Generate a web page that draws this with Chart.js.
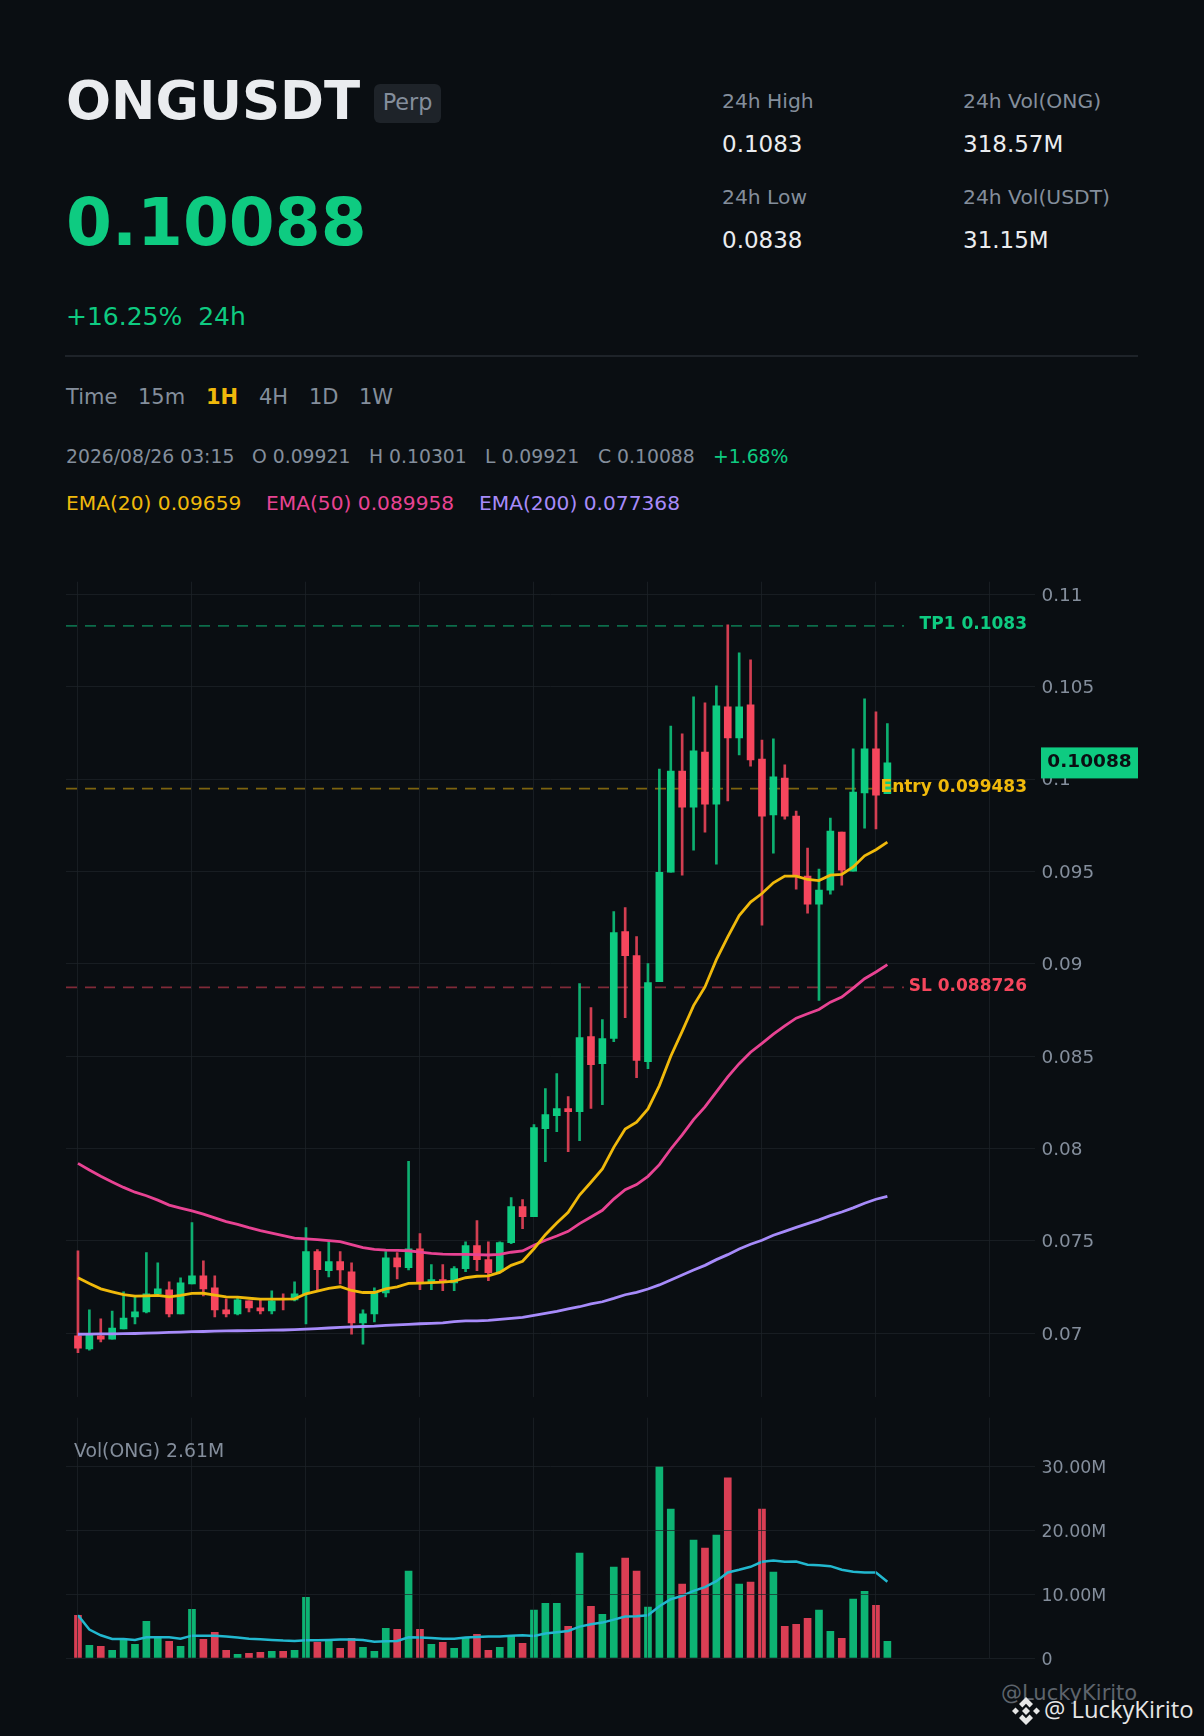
<!DOCTYPE html>
<html>
<head>
<meta charset="utf-8">
<title>ONGUSDT</title>
<script src="https://cdn.jsdelivr.net/npm/chart.js@4/dist/chart.umd.min.js"></script>
<style>
  html, body { margin: 0; padding: 0; background: #0a0e12; }
  #page { position: relative; width: 1204px; height: 1736px; overflow: hidden; font-family: "DejaVu Sans", sans-serif; color: #848e9c; }
  #page span, #page div.t { position: absolute; white-space: nowrap; line-height: 1; }
  canvas { position: absolute; left: 0; }
  #priceChart { top: 570px; }
  #volChart { top: 1410px; }
  .up { color: #0ecb81; }
  .white { color: #eaecef; }
</style>
</head>
<body>
<div id="page">
  <span style="left:66px;top:74px;font-size:53px;font-weight:bold;color:#eaecef">ONGUSDT</span>
  <span style="left:374px;top:84px;width:67px;height:39px;line-height:36px;font-size:22.3px;text-align:center;background:#1e2329;border-radius:6px">Perp</span>
  <span class="up" style="left:66px;top:190px;font-size:66px;font-weight:bold">0.10088</span>
  <span class="up" style="left:66px;top:304px;font-size:25px">+16.25%&nbsp; 24h</span>

  <span style="left:722px;top:91px;font-size:20.3px">24h High</span>
  <span class="white" style="left:722px;top:133px;font-size:23px">0.1083</span>
  <span style="left:722px;top:187px;font-size:20.3px">24h Low</span>
  <span class="white" style="left:722px;top:229px;font-size:23px">0.0838</span>
  <span style="left:963px;top:91px;font-size:20.3px">24h Vol(ONG)</span>
  <span class="white" style="left:963px;top:133px;font-size:23px">318.57M</span>
  <span style="left:963px;top:187px;font-size:20.3px">24h Vol(USDT)</span>
  <span class="white" style="left:963px;top:229px;font-size:23px">31.15M</span>

  <div style="position:absolute;left:65px;top:355px;width:1073px;height:2px;background:#1e2329"></div>

  <span style="left:66px;top:387px;font-size:21px">Time</span>
  <span style="left:138px;top:387px;font-size:21px">15m</span>
  <span style="left:206px;top:387px;font-size:21px;font-weight:bold;color:#f0b90b">1H</span>
  <span style="left:259px;top:387px;font-size:21px">4H</span>
  <span style="left:309px;top:387px;font-size:21px">1D</span>
  <span style="left:359px;top:387px;font-size:21px">1W</span>

  <span style="left:66px;top:448px;font-size:18.8px">2026/08/26 03:15</span>
  <span style="left:252px;top:448px;font-size:18.8px">O 0.09921</span>
  <span style="left:369px;top:448px;font-size:18.8px">H 0.10301</span>
  <span style="left:485px;top:448px;font-size:18.8px">L 0.09921</span>
  <span style="left:598px;top:448px;font-size:18.8px">C 0.10088</span>
  <span class="up" style="left:713px;top:448px;font-size:18.8px">+1.68%</span>

  <span style="left:66px;top:493px;font-size:20.2px;color:#f0b90b">EMA(20) 0.09659</span>
  <span style="left:266px;top:493px;font-size:20.2px;color:#e84393">EMA(50) 0.089958</span>
  <span style="left:479px;top:493px;font-size:20.2px;color:#a78bfa">EMA(200) 0.077368</span>

  <canvas id="priceChart" width="1204" height="840" style="width:1204px;height:840px"></canvas>
  <canvas id="volChart" width="1204" height="260" style="width:1204px;height:260px"></canvas>

  <span style="left:74px;top:1442px;font-size:18.8px">Vol(ONG) 2.61M</span>

  <span style="left:1001px;top:1683px;font-size:21px;color:#5e646c">@LuckyKirito</span>
  <svg style="position:absolute;left:1012px;top:1697px" width="28" height="28" viewBox="0 0 28 28" fill="#e6e6e6">
    <path d="M14 0l7 7-3.4 3.4L14 6.8l-3.6 3.6L7 7z"/>
    <path d="M14 28l7-7-3.4-3.4-3.6 3.6-3.6-3.6L7 21z"/>
    <path d="M3.5 10.5l3.5 3.5-3.5 3.5L0 14z"/>
    <path d="M24.500 10.500l3.500 3.500-3.500 3.500-3.500-3.500z"/>
    <path d="M14 10l4 4-4 4-4-4z"/>
  </svg>
  <span style="left:1044px;top:1698px;font-size:23.8px;color:#e6e6e6;font-family:'Open Sans',sans-serif">@ LuckyKirito</span>
</div>

<script>
// values
const opens = [0.06986,0.06915,0.06986,0.06969,0.07024,0.07089,0.07116,0.07214,0.07236,0.07105,0.07268,0.07312,0.07246,0.07127,0.07105,0.07176,0.07138,0.07121,0.07187,0.07181,0.07214,0.07442,0.07339,0.07388,0.07333,0.07056,0.07105,0.07219,0.07409,0.07355,0.07458,0.07273,0.07291,0.07273,0.0735,0.07475,0.07399,0.07334,0.07491,0.07686,0.07632,0.08108,0.08179,0.08217,0.082,0.08606,0.0846,0.08596,0.09175,0.09045,0.08471,0.08904,0.09496,0.10044,0.09849,0.10147,0.09865,0.10392,0.10223,0.10402,0.10109,0.09806,0.10006,0.098,0.09475,0.09323,0.09399,0.09713,0.09502,0.09925,0.10164,0.09921];
const highs = [0.07447,0.07127,0.07078,0.07121,0.07225,0.07203,0.07437,0.07382,0.07279,0.07301,0.076,0.07393,0.07312,0.07187,0.07192,0.07176,0.07181,0.0723,0.07214,0.07279,0.07572,0.07453,0.07496,0.07442,0.07382,0.07127,0.07246,0.07442,0.07437,0.07931,0.0754,0.07372,0.07372,0.07361,0.07496,0.0761,0.07496,0.07496,0.07735,0.07724,0.0813,0.08325,0.08406,0.08282,0.08893,0.08764,0.08699,0.09283,0.09305,0.09148,0.09002,0.10055,0.10288,0.10245,0.10446,0.10413,0.10505,0.10836,0.10684,0.10646,0.10212,0.10218,0.10077,0.09827,0.09627,0.09513,0.09789,0.09713,0.10164,0.10435,0.10364,0.10301];
const lows = [0.06895,0.06909,0.06953,0.06969,0.07024,0.07051,0.07111,0.07208,0.07089,0.07105,0.07268,0.07203,0.07089,0.07089,0.071,0.07116,0.07105,0.07105,0.07127,0.07176,0.07051,0.07236,0.07306,0.07268,0.06996,0.06942,0.07062,0.07197,0.07295,0.07344,0.07236,0.07236,0.07231,0.07231,0.07334,0.07339,0.07285,0.07334,0.07486,0.07567,0.07632,0.0793,0.08092,0.07984,0.08043,0.08217,0.08238,0.08579,0.08709,0.08384,0.08433,0.08904,0.09496,0.0948,0.09616,0.09713,0.0954,0.09882,0.10131,0.10071,0.09209,0.09599,0.09784,0.09404,0.09274,0.08802,0.09377,0.09426,0.09502,0.09735,0.0973,0.09921];
const closes = [0.0692,0.06996,0.06969,0.07029,0.07083,0.07116,0.07214,0.07241,0.07105,0.07274,0.07312,0.07241,0.07127,0.07105,0.07181,0.07138,0.07121,0.07176,0.07183,0.07214,0.07442,0.07344,0.07388,0.07344,0.07056,0.07105,0.07219,0.07409,0.0736,0.07458,0.07274,0.07291,0.07285,0.0735,0.07475,0.07399,0.07329,0.07491,0.07686,0.07632,0.08114,0.08184,0.08217,0.082,0.08601,0.08455,0.08596,0.0917,0.09045,0.08477,0.08899,0.09496,0.10044,0.09849,0.10153,0.09865,0.10397,0.10223,0.10392,0.10104,0.098,0.10012,0.098,0.09475,0.09323,0.09399,0.09719,0.09507,0.0993,0.10164,0.09914,0.10088];
const ema20 = [0.07301,0.0727,0.07241,0.07225,0.0721,0.07201,0.07203,0.07205,0.07197,0.07205,0.07216,0.07217,0.07207,0.07197,0.07196,0.0719,0.07185,0.07185,0.07185,0.07187,0.07214,0.07228,0.07243,0.07252,0.07232,0.07221,0.07221,0.07241,0.07252,0.0727,0.07272,0.07275,0.07277,0.07283,0.07301,0.07309,0.07311,0.0733,0.07368,0.0739,0.07458,0.07534,0.07597,0.07655,0.07749,0.07818,0.0789,0.08007,0.08106,0.08143,0.08215,0.08341,0.085,0.08635,0.08774,0.08875,0.09023,0.09146,0.09262,0.09335,0.09381,0.09439,0.09475,0.09475,0.09457,0.09451,0.0948,0.09484,0.09525,0.09585,0.09618,0.09659];
const ema50 = [0.0792,0.07884,0.0785,0.07819,0.0779,0.07764,0.07745,0.07721,0.07694,0.07678,0.07663,0.07645,0.07625,0.07605,0.0759,0.07572,0.07556,0.07542,0.07529,0.07516,0.07511,0.07507,0.07502,0.07496,0.0748,0.07464,0.07455,0.07451,0.07449,0.07447,0.0744,0.07433,0.07429,0.07428,0.07428,0.07426,0.07424,0.07428,0.07439,0.07446,0.07477,0.07504,0.07527,0.07552,0.07594,0.0763,0.07666,0.07727,0.07778,0.07805,0.0785,0.07913,0.07998,0.08074,0.08157,0.08226,0.08307,0.08388,0.0846,0.08522,0.0857,0.0862,0.08665,0.08706,0.0873,0.08753,0.08793,0.0882,0.08869,0.0892,0.08956,0.08996];
const ema200 = [0.06995,0.06996,0.06997,0.06997,0.06998,0.06999,0.07001,0.07003,0.07005,0.07007,0.07009,0.0701,0.07012,0.07013,0.07014,0.07015,0.07016,0.07017,0.07018,0.0702,0.07023,0.07026,0.07029,0.07032,0.07035,0.07037,0.07039,0.07043,0.07046,0.07049,0.07052,0.07054,0.07057,0.07063,0.07067,0.07068,0.0707,0.07076,0.07081,0.07087,0.07097,0.07108,0.07119,0.07132,0.07144,0.07159,0.07171,0.07189,0.07209,0.07222,0.0724,0.07262,0.07289,0.07316,0.07343,0.07368,0.07399,0.07426,0.07457,0.07482,0.07504,0.07531,0.07552,0.07574,0.07594,0.07614,0.07637,0.07657,0.07679,0.07704,0.07726,0.07742];
const volumes = [6.69,1.99,1.83,1.2,2.93,2.14,5.75,3.24,2.61,1.83,7.63,2.93,4.03,1.2,0.58,0.73,0.89,1.05,1.05,1.2,9.51,2.46,2.93,1.52,3.08,1.67,1.05,4.65,4.5,13.59,4.5,2.14,2.46,1.52,3.24,3.71,1.2,1.67,3.55,2.3,7.48,8.57,8.57,4.97,16.41,8.1,6.85,14.22,15.63,13.59,7.95,30,23.31,11.55,18.45,17.2,19.24,28.18,11.55,11.87,23.31,13.43,4.97,5.28,6.22,7.48,4.18,3.08,9.2,10.45,8.26,2.61];
const volMa = [6.69,4.44,3.55,2.98,2.98,2.82,3.24,3.24,3.24,3.03,3.5,3.5,3.5,3.35,3.19,3.03,2.93,2.82,2.72,2.67,2.77,2.77,2.82,2.88,2.88,2.82,2.56,2.61,2.67,3.24,3.19,3.14,3.03,3.03,3.19,3.29,3.35,3.35,3.5,3.55,3.45,3.82,4.03,4.24,4.91,5.28,5.54,6.01,6.48,6.53,6.69,8.1,9.2,9.72,10.51,11.08,12.02,13.38,13.8,14.27,15.05,15.26,15.05,15.11,14.58,14.53,14.37,13.8,13.48,13.38,13.38,11.92];
const priceTicks = [0.07,0.075,0.08,0.085,0.09,0.095,0.1,0.105,0.11];
const volTicks = [0,10,20,30];
const gridIndexes = [0,10,20,30,40,50,60,70,80];
const levels = [
  { label: 'TP1 0.1083', price: 0.1083, color: '#0ecb81', line: 'rgba(14,203,129,0.5)' },
  { label: 'Entry 0.099483', price: 0.099483, color: '#f0b90b', line: 'rgba(240,185,11,0.5)' },
  { label: 'SL 0.088726', price: 0.088726, color: '#f6465d', line: 'rgba(246,70,93,0.5)' }
];
const lastPrice = '0.10088';

const UP = '#0ecb81';
const DOWN = '#f6465d';
const UP_WICK = 'rgba(14,203,129,0.85)';
const DOWN_WICK = 'rgba(246,70,93,0.85)';
const GRID = 'rgba(30,35,41,0.7)';
const TICK = '#848e9c';

Chart.defaults.font.family = '"DejaVu Sans", sans-serif';
Chart.defaults.animation = false;

const xs = closes.map((_, i) => i);
const isUp = i => closes[i] >= opens[i];
const toPoints = values => values.map((y, i) => ({ x: i, y }));

const lineSet = (data, color, width, order) => ({
    type: 'line', data: toPoints(data), borderColor: color, borderWidth: width,
    pointRadius: 0, tension: 0, order
});

const xScale = {
    type: 'linear', min: -1.05, max: 83.95, offset: false,
    afterBuildTicks: s => { s.ticks = gridIndexes.map(value => ({ value })); },
    afterFit: s => { s.height = 0; s.paddingLeft = 0; s.paddingRight = 0; },
    ticks: { display: false },
    grid: { color: GRID, drawTicks: false, offset: false },
    border: { display: false }
};

// no extra room for the first and last tick label, the plot box is set by layout.padding
const fitRightAxis = s => {
    s.width = 169;
    s.paddingTop = 0;
    s.paddingBottom = 0;
};

// price level labels and the last price tag
const overlay = {
    id: 'overlay',
    afterDraw(chart) {
        const { ctx, chartArea, scales: { y } } = chart;
        ctx.save();
        ctx.font = 'bold 17px "DejaVu Sans"';
        ctx.textAlign = 'right';
        ctx.textBaseline = 'middle';
        for (const lv of levels) {
            ctx.fillStyle = lv.color;
            ctx.fillText(lv.label, chartArea.right - 8, y.getPixelForValue(lv.price) - 1);
        }
        const tagY = y.getPixelForValue(closes[closes.length - 1]);
        ctx.fillStyle = UP;
        ctx.fillRect(chartArea.right + 6, tagY - 15.5, 97, 31);
        ctx.fillStyle = '#0a0e12';
        ctx.font = 'bold 18.5px "DejaVu Sans"';
        ctx.textAlign = 'center';
        ctx.fillText(lastPrice, chartArea.right + 54.5, tagY - 1);
        ctx.restore();
    }
};

new Chart(document.getElementById('priceChart'), {
    type: 'bar',
    data: {
        datasets: [
            lineSet(ema20, '#f0b90b', 2.8, 1),
            lineSet(ema50, '#e84393', 2.8, 2),
            lineSet(ema200, '#a78bfa', 2.8, 3),
            {
                data: xs.map(i => ({ x: i, y: [opens[i], closes[i]] })),
                backgroundColor: xs.map(i => isUp(i) ? UP : DOWN),
                barThickness: 7, grouped: false, order: 4
            },
            {
                data: xs.map(i => ({ x: i, y: [lows[i], highs[i]] })),
                backgroundColor: xs.map(i => isUp(i) ? UP_WICK : DOWN_WICK),
                barThickness: 2, grouped: false, order: 5
            },
            ...levels.map((lv, n) => ({
                type: 'line',
                data: [{ x: -1.05, y: lv.price }, { x: 72.46, y: lv.price }],
                borderColor: lv.line, borderWidth: 1.8, borderDash: [11, 8],
                pointRadius: 0, order: 6 + n
            }))
        ]
    },
    options: {
        responsive: false,
        layout: { padding: { left: 66, top: 11.7, bottom: 13.3, right: 0 } },
        plugins: { legend: { display: false }, tooltip: { enabled: false } },
        scales: {
            x: xScale,
            y: {
                position: 'right', min: 0.06657, max: 0.11069,
                afterBuildTicks: s => { s.ticks = priceTicks.map(value => ({ value })); },
                afterFit: fitRightAxis,
                ticks: { color: TICK, font: { size: 18.4 }, padding: 6.5, labelOffset: 1.5, callback: v => String(v) },
                grid: { color: GRID, drawTicks: false },
                border: { display: false }
            }
        }
    },
    plugins: [overlay]
});

new Chart(document.getElementById('volChart'), {
    type: 'bar',
    data: {
        datasets: [
            lineSet(volMa, '#22b8cf', 2.5, 1),
            {
                data: toPoints(volumes),
                backgroundColor: xs.map(i => isUp(i) ? 'rgba(14,203,129,0.88)' : 'rgba(246,70,93,0.88)'),
                barThickness: 7, order: 2
            }
        ]
    },
    options: {
        responsive: false,
        layout: { padding: { left: 66, top: 7.7, bottom: 12, right: 0 } },
        plugins: { legend: { display: false }, tooltip: { enabled: false } },
        scales: {
            x: { ...xScale, grid: { color: GRID, drawTicks: false, offset: false, z: 1 } },
            y: {
                position: 'right', min: 0, max: 37.6,
                afterBuildTicks: s => { s.ticks = volTicks.map(value => ({ value })); },
                afterFit: fitRightAxis,
                ticks: { color: TICK, font: { size: 17.4 }, padding: 6.5, labelOffset: 2, callback: v => v === 0 ? '0' : v.toFixed(2) + 'M' },
                grid: { color: GRID, drawTicks: false, z: 1 },
                border: { display: false }
            }
        }
    }
});
</script>
</body>
</html>
